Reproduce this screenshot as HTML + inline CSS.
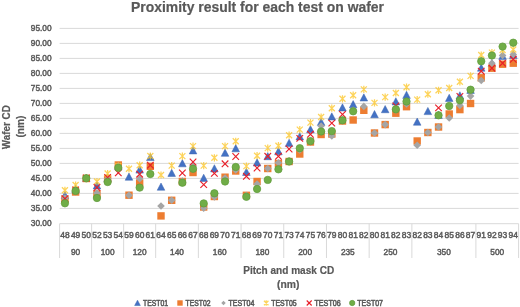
<!DOCTYPE html><html><head><meta charset="utf-8"><title>Proximity result for each test on wafer</title>
<style>html,body{margin:0;padding:0;background:#fff;width:520px;height:307px;overflow:hidden}svg{display:block;filter:blur(0.35px)}text{font-family:'Liberation Sans', Arial, sans-serif;fill:#595959}text.r{stroke:#595959;stroke-width:0.45px}text[font-weight]{stroke:#595959;stroke-width:0.2px}</style></head><body>
<svg width="520" height="307" viewBox="0 0 520 307">
<rect width="520" height="307" fill="#fff"/>
<text x="131.0" y="11.75" font-size="13.9" font-weight="bold" textLength="253" lengthAdjust="spacingAndGlyphs">Proximity result for each test on wafer</text>
<path d="M59.6 208.40H518.6M59.6 193.40H518.6M59.6 178.40H518.6M59.6 163.40H518.6M59.6 148.40H518.6M59.6 133.40H518.6M59.6 118.40H518.6M59.6 103.40H518.6M59.6 88.40H518.6M59.6 73.40H518.6M59.6 58.40H518.6M59.6 43.40H518.6M59.6 28.40H518.6" stroke="#D9D9D9" stroke-width="1" fill="none"/>
<text x="51.6" y="226.35" class="r" font-size="8.3" text-anchor="end">30.00</text>
<text x="51.6" y="211.35" class="r" font-size="8.3" text-anchor="end">35.00</text>
<text x="51.6" y="196.35" class="r" font-size="8.3" text-anchor="end">40.00</text>
<text x="51.6" y="181.35" class="r" font-size="8.3" text-anchor="end">45.00</text>
<text x="51.6" y="166.35" class="r" font-size="8.3" text-anchor="end">50.00</text>
<text x="51.6" y="151.35" class="r" font-size="8.3" text-anchor="end">55.00</text>
<text x="51.6" y="136.35" class="r" font-size="8.3" text-anchor="end">60.00</text>
<text x="51.6" y="121.35" class="r" font-size="8.3" text-anchor="end">65.00</text>
<text x="51.6" y="106.35" class="r" font-size="8.3" text-anchor="end">70.00</text>
<text x="51.6" y="91.35" class="r" font-size="8.3" text-anchor="end">75.00</text>
<text x="51.6" y="76.35" class="r" font-size="8.3" text-anchor="end">80.00</text>
<text x="51.6" y="61.35" class="r" font-size="8.3" text-anchor="end">85.00</text>
<text x="51.6" y="46.35" class="r" font-size="8.3" text-anchor="end">90.00</text>
<text x="51.6" y="31.35" class="r" font-size="8.3" text-anchor="end">95.00</text>
<path d="M59.6 223.70H518.6M59.60 223.70V258M91.62 223.70V258M123.65 223.70V258M155.67 223.70V258M198.37 223.70V258M241.07 223.70V258M283.76 223.70V258M326.46 223.70V258M369.16 223.70V258M411.86 223.70V258M475.90 223.70V258M518.60 223.70V258" stroke="#D9D9D9" stroke-width="1" fill="none"/>
<text x="64.94" y="238.3" class="r" font-size="8.3" text-anchor="middle" textLength="9.4" lengthAdjust="spacingAndGlyphs">48</text>
<text x="75.61" y="238.3" class="r" font-size="8.3" text-anchor="middle" textLength="9.4" lengthAdjust="spacingAndGlyphs">49</text>
<text x="86.29" y="238.3" class="r" font-size="8.3" text-anchor="middle" textLength="9.4" lengthAdjust="spacingAndGlyphs">50</text>
<text x="75.61" y="255.2" class="r" font-size="8.3" text-anchor="middle">90</text>
<text x="96.96" y="238.3" class="r" font-size="8.3" text-anchor="middle" textLength="9.4" lengthAdjust="spacingAndGlyphs">52</text>
<text x="107.63" y="238.3" class="r" font-size="8.3" text-anchor="middle" textLength="9.4" lengthAdjust="spacingAndGlyphs">53</text>
<text x="118.31" y="238.3" class="r" font-size="8.3" text-anchor="middle" textLength="9.4" lengthAdjust="spacingAndGlyphs">54</text>
<text x="107.63" y="255.2" class="r" font-size="8.3" text-anchor="middle">100</text>
<text x="128.98" y="238.3" class="r" font-size="8.3" text-anchor="middle" textLength="9.4" lengthAdjust="spacingAndGlyphs">59</text>
<text x="139.66" y="238.3" class="r" font-size="8.3" text-anchor="middle" textLength="9.4" lengthAdjust="spacingAndGlyphs">60</text>
<text x="150.33" y="238.3" class="r" font-size="8.3" text-anchor="middle" textLength="9.4" lengthAdjust="spacingAndGlyphs">61</text>
<text x="139.66" y="255.2" class="r" font-size="8.3" text-anchor="middle">120</text>
<text x="161.01" y="238.3" class="r" font-size="8.3" text-anchor="middle" textLength="9.4" lengthAdjust="spacingAndGlyphs">64</text>
<text x="171.68" y="238.3" class="r" font-size="8.3" text-anchor="middle" textLength="9.4" lengthAdjust="spacingAndGlyphs">65</text>
<text x="182.36" y="238.3" class="r" font-size="8.3" text-anchor="middle" textLength="9.4" lengthAdjust="spacingAndGlyphs">66</text>
<text x="193.03" y="238.3" class="r" font-size="8.3" text-anchor="middle" textLength="9.4" lengthAdjust="spacingAndGlyphs">67</text>
<text x="177.02" y="255.2" class="r" font-size="8.3" text-anchor="middle">140</text>
<text x="203.70" y="238.3" class="r" font-size="8.3" text-anchor="middle" textLength="9.4" lengthAdjust="spacingAndGlyphs">68</text>
<text x="214.38" y="238.3" class="r" font-size="8.3" text-anchor="middle" textLength="9.4" lengthAdjust="spacingAndGlyphs">69</text>
<text x="225.05" y="238.3" class="r" font-size="8.3" text-anchor="middle" textLength="9.4" lengthAdjust="spacingAndGlyphs">70</text>
<text x="235.73" y="238.3" class="r" font-size="8.3" text-anchor="middle" textLength="9.4" lengthAdjust="spacingAndGlyphs">71</text>
<text x="219.72" y="255.2" class="r" font-size="8.3" text-anchor="middle">160</text>
<text x="246.40" y="238.3" class="r" font-size="8.3" text-anchor="middle" textLength="9.4" lengthAdjust="spacingAndGlyphs">68</text>
<text x="257.08" y="238.3" class="r" font-size="8.3" text-anchor="middle" textLength="9.4" lengthAdjust="spacingAndGlyphs">69</text>
<text x="267.75" y="238.3" class="r" font-size="8.3" text-anchor="middle" textLength="9.4" lengthAdjust="spacingAndGlyphs">70</text>
<text x="278.43" y="238.3" class="r" font-size="8.3" text-anchor="middle" textLength="9.4" lengthAdjust="spacingAndGlyphs">71</text>
<text x="262.41" y="255.2" class="r" font-size="8.3" text-anchor="middle">180</text>
<text x="289.10" y="238.3" class="r" font-size="8.3" text-anchor="middle" textLength="9.4" lengthAdjust="spacingAndGlyphs">73</text>
<text x="299.77" y="238.3" class="r" font-size="8.3" text-anchor="middle" textLength="9.4" lengthAdjust="spacingAndGlyphs">74</text>
<text x="310.45" y="238.3" class="r" font-size="8.3" text-anchor="middle" textLength="9.4" lengthAdjust="spacingAndGlyphs">75</text>
<text x="321.12" y="238.3" class="r" font-size="8.3" text-anchor="middle" textLength="9.4" lengthAdjust="spacingAndGlyphs">76</text>
<text x="305.11" y="255.2" class="r" font-size="8.3" text-anchor="middle">200</text>
<text x="331.80" y="238.3" class="r" font-size="8.3" text-anchor="middle" textLength="9.4" lengthAdjust="spacingAndGlyphs">79</text>
<text x="342.47" y="238.3" class="r" font-size="8.3" text-anchor="middle" textLength="9.4" lengthAdjust="spacingAndGlyphs">80</text>
<text x="353.15" y="238.3" class="r" font-size="8.3" text-anchor="middle" textLength="9.4" lengthAdjust="spacingAndGlyphs">81</text>
<text x="363.82" y="238.3" class="r" font-size="8.3" text-anchor="middle" textLength="9.4" lengthAdjust="spacingAndGlyphs">82</text>
<text x="347.81" y="255.2" class="r" font-size="8.3" text-anchor="middle">235</text>
<text x="374.50" y="238.3" class="r" font-size="8.3" text-anchor="middle" textLength="9.4" lengthAdjust="spacingAndGlyphs">80</text>
<text x="385.17" y="238.3" class="r" font-size="8.3" text-anchor="middle" textLength="9.4" lengthAdjust="spacingAndGlyphs">81</text>
<text x="395.84" y="238.3" class="r" font-size="8.3" text-anchor="middle" textLength="9.4" lengthAdjust="spacingAndGlyphs">82</text>
<text x="406.52" y="238.3" class="r" font-size="8.3" text-anchor="middle" textLength="9.4" lengthAdjust="spacingAndGlyphs">83</text>
<text x="390.51" y="255.2" class="r" font-size="8.3" text-anchor="middle">250</text>
<text x="417.19" y="238.3" class="r" font-size="8.3" text-anchor="middle" textLength="9.4" lengthAdjust="spacingAndGlyphs">82</text>
<text x="427.87" y="238.3" class="r" font-size="8.3" text-anchor="middle" textLength="9.4" lengthAdjust="spacingAndGlyphs">83</text>
<text x="438.54" y="238.3" class="r" font-size="8.3" text-anchor="middle" textLength="9.4" lengthAdjust="spacingAndGlyphs">84</text>
<text x="449.22" y="238.3" class="r" font-size="8.3" text-anchor="middle" textLength="9.4" lengthAdjust="spacingAndGlyphs">85</text>
<text x="459.89" y="238.3" class="r" font-size="8.3" text-anchor="middle" textLength="9.4" lengthAdjust="spacingAndGlyphs">86</text>
<text x="470.57" y="238.3" class="r" font-size="8.3" text-anchor="middle" textLength="9.4" lengthAdjust="spacingAndGlyphs">87</text>
<text x="443.88" y="255.2" class="r" font-size="8.3" text-anchor="middle">350</text>
<text x="481.24" y="238.3" class="r" font-size="8.3" text-anchor="middle" textLength="9.4" lengthAdjust="spacingAndGlyphs">91</text>
<text x="491.91" y="238.3" class="r" font-size="8.3" text-anchor="middle" textLength="9.4" lengthAdjust="spacingAndGlyphs">92</text>
<text x="502.59" y="238.3" class="r" font-size="8.3" text-anchor="middle" textLength="9.4" lengthAdjust="spacingAndGlyphs">93</text>
<text x="513.26" y="238.3" class="r" font-size="8.3" text-anchor="middle" textLength="9.4" lengthAdjust="spacingAndGlyphs">94</text>
<text x="497.25" y="255.2" class="r" font-size="8.3" text-anchor="middle">500</text>
<text x="243.2" y="274.2" font-size="10.5" font-weight="bold" textLength="91" lengthAdjust="spacingAndGlyphs">Pitch and mask CD</text>
<text x="277" y="288.3" font-size="10.5" font-weight="bold" textLength="22.4" lengthAdjust="spacingAndGlyphs">(nm)</text>
<text transform="translate(9.9 149.2) rotate(-90)" x="0" y="0" font-size="10.3" font-weight="bold" textLength="44" lengthAdjust="spacingAndGlyphs">Wafer CD</text>
<text transform="translate(23.7 137.6) rotate(-90)" x="0" y="0" font-size="10.3" font-weight="bold" textLength="22" lengthAdjust="spacingAndGlyphs">(nm)</text>
<path d="M64.94 191.60L68.74 198.82L61.14 198.82Z" fill="#4472C4" stroke="#3A64B0" stroke-width="0.5"/>
<path d="M75.61 185.20L79.41 192.42L71.81 192.42Z" fill="#4472C4" stroke="#3A64B0" stroke-width="0.5"/>
<path d="M86.29 174.20L90.09 181.42L82.49 181.42Z" fill="#4472C4" stroke="#3A64B0" stroke-width="0.5"/>
<path d="M96.96 181.80L100.76 189.02L93.16 189.02Z" fill="#4472C4" stroke="#3A64B0" stroke-width="0.5"/>
<path d="M107.63 174.20L111.43 181.42L103.83 181.42Z" fill="#4472C4" stroke="#3A64B0" stroke-width="0.5"/>
<path d="M118.31 162.20L122.11 169.42L114.51 169.42Z" fill="#4472C4" stroke="#3A64B0" stroke-width="0.5"/>
<path d="M128.98 173.00L132.78 180.22L125.18 180.22Z" fill="#4472C4" stroke="#3A64B0" stroke-width="0.5"/>
<path d="M139.66 165.90L143.46 173.12L135.86 173.12Z" fill="#4472C4" stroke="#3A64B0" stroke-width="0.5"/>
<path d="M150.33 153.40L154.13 160.62L146.53 160.62Z" fill="#4472C4" stroke="#3A64B0" stroke-width="0.5"/>
<path d="M161.01 183.00L164.81 190.22L157.21 190.22Z" fill="#4472C4" stroke="#3A64B0" stroke-width="0.5"/>
<path d="M171.68 169.20L175.48 176.42L167.88 176.42Z" fill="#4472C4" stroke="#3A64B0" stroke-width="0.5"/>
<path d="M182.36 159.60L186.16 166.82L178.56 166.82Z" fill="#4472C4" stroke="#3A64B0" stroke-width="0.5"/>
<path d="M193.03 146.70L196.83 153.92L189.23 153.92Z" fill="#4472C4" stroke="#3A64B0" stroke-width="0.5"/>
<path d="M203.70 174.20L207.50 181.42L199.90 181.42Z" fill="#4472C4" stroke="#3A64B0" stroke-width="0.5"/>
<path d="M214.38 164.70L218.18 171.92L210.58 171.92Z" fill="#4472C4" stroke="#3A64B0" stroke-width="0.5"/>
<path d="M225.05 149.10L228.85 156.32L221.25 156.32Z" fill="#4472C4" stroke="#3A64B0" stroke-width="0.5"/>
<path d="M235.73 144.60L239.53 151.82L231.93 151.82Z" fill="#4472C4" stroke="#3A64B0" stroke-width="0.5"/>
<path d="M246.40 168.20L250.20 175.42L242.60 175.42Z" fill="#4472C4" stroke="#3A64B0" stroke-width="0.5"/>
<path d="M257.08 158.80L260.88 166.02L253.28 166.02Z" fill="#4472C4" stroke="#3A64B0" stroke-width="0.5"/>
<path d="M267.75 152.50L271.55 159.72L263.95 159.72Z" fill="#4472C4" stroke="#3A64B0" stroke-width="0.5"/>
<path d="M278.43 147.60L282.23 154.82L274.63 154.82Z" fill="#4472C4" stroke="#3A64B0" stroke-width="0.5"/>
<path d="M289.10 139.20L292.90 146.42L285.30 146.42Z" fill="#4472C4" stroke="#3A64B0" stroke-width="0.5"/>
<path d="M299.77 132.70L303.57 139.92L295.97 139.92Z" fill="#4472C4" stroke="#3A64B0" stroke-width="0.5"/>
<path d="M310.45 125.60L314.25 132.82L306.65 132.82Z" fill="#4472C4" stroke="#3A64B0" stroke-width="0.5"/>
<path d="M321.12 118.20L324.92 125.42L317.32 125.42Z" fill="#4472C4" stroke="#3A64B0" stroke-width="0.5"/>
<path d="M331.80 112.80L335.60 120.02L328.00 120.02Z" fill="#4472C4" stroke="#3A64B0" stroke-width="0.5"/>
<path d="M342.47 103.80L346.27 111.02L338.67 111.02Z" fill="#4472C4" stroke="#3A64B0" stroke-width="0.5"/>
<path d="M353.15 100.60L356.95 107.82L349.35 107.82Z" fill="#4472C4" stroke="#3A64B0" stroke-width="0.5"/>
<path d="M363.82 93.80L367.62 101.02L360.02 101.02Z" fill="#4472C4" stroke="#3A64B0" stroke-width="0.5"/>
<path d="M374.50 110.50L378.30 117.72L370.70 117.72Z" fill="#4472C4" stroke="#3A64B0" stroke-width="0.5"/>
<path d="M385.17 105.50L388.97 112.72L381.37 112.72Z" fill="#4472C4" stroke="#3A64B0" stroke-width="0.5"/>
<path d="M395.84 97.70L399.64 104.92L392.04 104.92Z" fill="#4472C4" stroke="#3A64B0" stroke-width="0.5"/>
<path d="M406.52 91.20L410.32 98.42L402.72 98.42Z" fill="#4472C4" stroke="#3A64B0" stroke-width="0.5"/>
<path d="M417.19 118.00L420.99 125.22L413.39 125.22Z" fill="#4472C4" stroke="#3A64B0" stroke-width="0.5"/>
<path d="M427.87 107.40L431.67 114.62L424.07 114.62Z" fill="#4472C4" stroke="#3A64B0" stroke-width="0.5"/>
<path d="M438.54 111.20L442.34 118.42L434.74 118.42Z" fill="#4472C4" stroke="#3A64B0" stroke-width="0.5"/>
<path d="M449.22 94.20L453.02 101.42L445.42 101.42Z" fill="#4472C4" stroke="#3A64B0" stroke-width="0.5"/>
<path d="M459.89 91.70L463.69 98.92L456.09 98.92Z" fill="#4472C4" stroke="#3A64B0" stroke-width="0.5"/>
<path d="M470.57 86.20L474.37 93.42L466.77 93.42Z" fill="#4472C4" stroke="#3A64B0" stroke-width="0.5"/>
<path d="M481.24 64.00L485.04 71.22L477.44 71.22Z" fill="#4472C4" stroke="#3A64B0" stroke-width="0.5"/>
<path d="M491.91 59.50L495.71 66.72L488.11 66.72Z" fill="#4472C4" stroke="#3A64B0" stroke-width="0.5"/>
<path d="M502.59 52.20L506.39 59.42L498.79 59.42Z" fill="#4472C4" stroke="#3A64B0" stroke-width="0.5"/>
<path d="M513.26 51.20L517.06 58.42L509.46 58.42Z" fill="#4472C4" stroke="#3A64B0" stroke-width="0.5"/>
<rect x="61.24" y="195.60" width="7.40" height="7.40" fill="#ED7D31"/>
<rect x="71.91" y="188.30" width="7.40" height="7.40" fill="#ED7D31"/>
<rect x="82.59" y="174.80" width="7.40" height="7.40" fill="#ED7D31"/>
<rect x="93.26" y="190.30" width="7.40" height="7.40" fill="#ED7D31"/>
<rect x="103.93" y="175.30" width="7.40" height="7.40" fill="#ED7D31"/>
<rect x="114.61" y="161.30" width="7.40" height="7.40" fill="#ED7D31"/>
<rect x="125.28" y="191.50" width="7.40" height="7.40" fill="#ED7D31"/>
<rect x="135.96" y="179.30" width="7.40" height="7.40" fill="#ED7D31"/>
<rect x="146.63" y="162.60" width="7.40" height="7.40" fill="#ED7D31"/>
<rect x="157.31" y="212.20" width="7.40" height="7.40" fill="#ED7D31"/>
<rect x="167.98" y="196.60" width="7.40" height="7.40" fill="#ED7D31"/>
<rect x="178.66" y="177.80" width="7.40" height="7.40" fill="#ED7D31"/>
<rect x="189.33" y="168.80" width="7.40" height="7.40" fill="#ED7D31"/>
<rect x="200.00" y="203.30" width="7.40" height="7.40" fill="#ED7D31"/>
<rect x="210.68" y="192.80" width="7.40" height="7.40" fill="#ED7D31"/>
<rect x="221.35" y="173.50" width="7.40" height="7.40" fill="#ED7D31"/>
<rect x="232.03" y="167.30" width="7.40" height="7.40" fill="#ED7D31"/>
<rect x="242.70" y="191.60" width="7.40" height="7.40" fill="#ED7D31"/>
<rect x="253.38" y="177.80" width="7.40" height="7.40" fill="#ED7D31"/>
<rect x="264.05" y="164.80" width="7.40" height="7.40" fill="#ED7D31"/>
<rect x="274.73" y="159.80" width="7.40" height="7.40" fill="#ED7D31"/>
<rect x="285.40" y="157.80" width="7.40" height="7.40" fill="#ED7D31"/>
<rect x="296.07" y="150.30" width="7.40" height="7.40" fill="#ED7D31"/>
<rect x="306.75" y="138.30" width="7.40" height="7.40" fill="#ED7D31"/>
<rect x="317.42" y="130.80" width="7.40" height="7.40" fill="#ED7D31"/>
<rect x="328.10" y="130.30" width="7.40" height="7.40" fill="#ED7D31"/>
<rect x="338.77" y="117.30" width="7.40" height="7.40" fill="#ED7D31"/>
<rect x="349.45" y="116.30" width="7.40" height="7.40" fill="#ED7D31"/>
<rect x="360.12" y="106.60" width="7.40" height="7.40" fill="#ED7D31"/>
<rect x="370.80" y="129.30" width="7.40" height="7.40" fill="#ED7D31"/>
<rect x="381.47" y="120.90" width="7.40" height="7.40" fill="#ED7D31"/>
<rect x="392.14" y="109.50" width="7.40" height="7.40" fill="#ED7D31"/>
<rect x="402.82" y="103.00" width="7.40" height="7.40" fill="#ED7D31"/>
<rect x="413.49" y="137.30" width="7.40" height="7.40" fill="#ED7D31"/>
<rect x="424.17" y="128.80" width="7.40" height="7.40" fill="#ED7D31"/>
<rect x="434.84" y="123.30" width="7.40" height="7.40" fill="#ED7D31"/>
<rect x="445.52" y="110.30" width="7.40" height="7.40" fill="#ED7D31"/>
<rect x="456.19" y="105.90" width="7.40" height="7.40" fill="#ED7D31"/>
<rect x="466.87" y="99.80" width="7.40" height="7.40" fill="#ED7D31"/>
<rect x="477.54" y="74.10" width="7.40" height="7.40" fill="#ED7D31"/>
<rect x="488.21" y="64.50" width="7.40" height="7.40" fill="#ED7D31"/>
<rect x="498.89" y="60.50" width="7.40" height="7.40" fill="#ED7D31"/>
<rect x="509.56" y="59.50" width="7.40" height="7.40" fill="#ED7D31"/>
<path d="M64.94 194.20L68.74 198.00L64.94 201.80L61.14 198.00Z" fill="#A5A5A5"/>
<path d="M75.61 187.20L79.41 191.00L75.61 194.80L71.81 191.00Z" fill="#A5A5A5"/>
<path d="M86.29 174.20L90.09 178.00L86.29 181.80L82.49 178.00Z" fill="#A5A5A5"/>
<path d="M96.96 189.20L100.76 193.00L96.96 196.80L93.16 193.00Z" fill="#A5A5A5"/>
<path d="M107.63 175.20L111.43 179.00L107.63 182.80L103.83 179.00Z" fill="#A5A5A5"/>
<path d="M118.31 162.20L122.11 166.00L118.31 169.80L114.51 166.00Z" fill="#A5A5A5"/>
<path d="M128.98 191.40L132.78 195.20L128.98 199.00L125.18 195.20Z" fill="#A5A5A5"/>
<path d="M139.66 174.90L143.46 178.70L139.66 182.50L135.86 178.70Z" fill="#A5A5A5"/>
<path d="M150.33 170.20L154.13 174.00L150.33 177.80L146.53 174.00Z" fill="#A5A5A5"/>
<path d="M161.01 202.20L164.81 206.00L161.01 209.80L157.21 206.00Z" fill="#A5A5A5"/>
<path d="M171.68 196.50L175.48 200.30L171.68 204.10L167.88 200.30Z" fill="#A5A5A5"/>
<path d="M182.36 177.20L186.16 181.00L182.36 184.80L178.56 181.00Z" fill="#A5A5A5"/>
<path d="M193.03 162.20L196.83 166.00L193.03 169.80L189.23 166.00Z" fill="#A5A5A5"/>
<path d="M203.70 204.50L207.50 208.30L203.70 212.10L199.90 208.30Z" fill="#A5A5A5"/>
<path d="M214.38 193.20L218.18 197.00L214.38 200.80L210.58 197.00Z" fill="#A5A5A5"/>
<path d="M225.05 174.20L228.85 178.00L225.05 181.80L221.25 178.00Z" fill="#A5A5A5"/>
<path d="M235.73 166.20L239.53 170.00L235.73 173.80L231.93 170.00Z" fill="#A5A5A5"/>
<path d="M246.40 191.70L250.20 195.50L246.40 199.30L242.60 195.50Z" fill="#A5A5A5"/>
<path d="M257.08 180.20L260.88 184.00L257.08 187.80L253.28 184.00Z" fill="#A5A5A5"/>
<path d="M267.75 164.70L271.55 168.50L267.75 172.30L263.95 168.50Z" fill="#A5A5A5"/>
<path d="M278.43 159.00L282.23 162.80L278.43 166.60L274.63 162.80Z" fill="#A5A5A5"/>
<path d="M289.10 157.20L292.90 161.00L289.10 164.80L285.30 161.00Z" fill="#A5A5A5"/>
<path d="M299.77 146.20L303.57 150.00L299.77 153.80L295.97 150.00Z" fill="#A5A5A5"/>
<path d="M310.45 137.20L314.25 141.00L310.45 144.80L306.65 141.00Z" fill="#A5A5A5"/>
<path d="M321.12 122.20L324.92 126.00L321.12 129.80L317.32 126.00Z" fill="#A5A5A5"/>
<path d="M331.80 132.20L335.60 136.00L331.80 139.80L328.00 136.00Z" fill="#A5A5A5"/>
<path d="M342.47 116.20L346.27 120.00L342.47 123.80L338.67 120.00Z" fill="#A5A5A5"/>
<path d="M353.15 106.50L356.95 110.30L353.15 114.10L349.35 110.30Z" fill="#A5A5A5"/>
<path d="M363.82 102.60L367.62 106.40L363.82 110.20L360.02 106.40Z" fill="#A5A5A5"/>
<path d="M374.50 129.20L378.30 133.00L374.50 136.80L370.70 133.00Z" fill="#A5A5A5"/>
<path d="M385.17 120.80L388.97 124.60L385.17 128.40L381.37 124.60Z" fill="#A5A5A5"/>
<path d="M395.84 106.20L399.64 110.00L395.84 113.80L392.04 110.00Z" fill="#A5A5A5"/>
<path d="M406.52 100.20L410.32 104.00L406.52 107.80L402.72 104.00Z" fill="#A5A5A5"/>
<path d="M417.19 141.40L420.99 145.20L417.19 149.00L413.39 145.20Z" fill="#A5A5A5"/>
<path d="M427.87 128.70L431.67 132.50L427.87 136.30L424.07 132.50Z" fill="#A5A5A5"/>
<path d="M438.54 123.20L442.34 127.00L438.54 130.80L434.74 127.00Z" fill="#A5A5A5"/>
<path d="M449.22 114.20L453.02 118.00L449.22 121.80L445.42 118.00Z" fill="#A5A5A5"/>
<path d="M459.89 101.70L463.69 105.50L459.89 109.30L456.09 105.50Z" fill="#A5A5A5"/>
<path d="M470.57 92.30L474.37 96.10L470.57 99.90L466.77 96.10Z" fill="#A5A5A5"/>
<path d="M481.24 76.70L485.04 80.50L481.24 84.30L477.44 80.50Z" fill="#A5A5A5"/>
<path d="M491.91 59.50L495.71 63.30L491.91 67.10L488.11 63.30Z" fill="#A5A5A5"/>
<path d="M502.59 51.60L506.39 55.40L502.59 59.20L498.79 55.40Z" fill="#A5A5A5"/>
<path d="M513.26 50.60L517.06 54.40L513.26 58.20L509.46 54.40Z" fill="#A5A5A5"/>
<path d="M61.94 187.30L67.94 193.30M67.94 187.30L61.94 193.30M64.94 186.70L64.94 193.90" stroke="#FCC830" stroke-width="1.25" fill="none" opacity="0.8"/>
<path d="M72.61 182.00L78.61 188.00M78.61 182.00L72.61 188.00M75.61 181.40L75.61 188.60" stroke="#FCC830" stroke-width="1.25" fill="none" opacity="0.8"/>
<path d="M83.29 175.00L89.29 181.00M89.29 175.00L83.29 181.00M86.29 174.40L86.29 181.60" stroke="#FCC830" stroke-width="1.25" fill="none" opacity="0.8"/>
<path d="M93.96 178.50L99.96 184.50M99.96 178.50L93.96 184.50M96.96 177.90L96.96 185.10" stroke="#FCC830" stroke-width="1.25" fill="none" opacity="0.8"/>
<path d="M104.63 170.50L110.63 176.50M110.63 170.50L104.63 176.50M107.63 169.90L107.63 177.10" stroke="#FCC830" stroke-width="1.25" fill="none" opacity="0.8"/>
<path d="M115.31 163.00L121.31 169.00M121.31 163.00L115.31 169.00M118.31 162.40L118.31 169.60" stroke="#FCC830" stroke-width="1.25" fill="none" opacity="0.8"/>
<path d="M125.98 165.80L131.98 171.80M131.98 165.80L125.98 171.80M128.98 165.20L128.98 172.40" stroke="#FCC830" stroke-width="1.25" fill="none" opacity="0.8"/>
<path d="M136.66 162.20L142.66 168.20M142.66 162.20L136.66 168.20M139.66 161.60L139.66 168.80" stroke="#FCC830" stroke-width="1.25" fill="none" opacity="0.8"/>
<path d="M147.33 153.00L153.33 159.00M153.33 153.00L147.33 159.00M150.33 152.40L150.33 159.60" stroke="#FCC830" stroke-width="1.25" fill="none" opacity="0.8"/>
<path d="M158.01 172.00L164.01 178.00M164.01 172.00L158.01 178.00M161.01 171.40L161.01 178.60" stroke="#FCC830" stroke-width="1.25" fill="none" opacity="0.8"/>
<path d="M168.68 162.60L174.68 168.60M174.68 162.60L168.68 168.60M171.68 162.00L171.68 169.20" stroke="#FCC830" stroke-width="1.25" fill="none" opacity="0.8"/>
<path d="M179.36 153.10L185.36 159.10M185.36 153.10L179.36 159.10M182.36 152.50L182.36 159.70" stroke="#FCC830" stroke-width="1.25" fill="none" opacity="0.8"/>
<path d="M190.03 143.10L196.03 149.10M196.03 143.10L190.03 149.10M193.03 142.50L193.03 149.70" stroke="#FCC830" stroke-width="1.25" fill="none" opacity="0.8"/>
<path d="M200.70 162.60L206.70 168.60M206.70 162.60L200.70 168.60M203.70 162.00L203.70 169.20" stroke="#FCC830" stroke-width="1.25" fill="none" opacity="0.8"/>
<path d="M211.38 154.80L217.38 160.80M217.38 154.80L211.38 160.80M214.38 154.20L214.38 161.40" stroke="#FCC830" stroke-width="1.25" fill="none" opacity="0.8"/>
<path d="M222.05 143.10L228.05 149.10M228.05 143.10L222.05 149.10M225.05 142.50L225.05 149.70" stroke="#FCC830" stroke-width="1.25" fill="none" opacity="0.8"/>
<path d="M232.73 138.30L238.73 144.30M238.73 138.30L232.73 144.30M235.73 137.70L235.73 144.90" stroke="#FCC830" stroke-width="1.25" fill="none" opacity="0.8"/>
<path d="M243.40 163.10L249.40 169.10M249.40 163.10L243.40 169.10M246.40 162.50L246.40 169.70" stroke="#FCC830" stroke-width="1.25" fill="none" opacity="0.8"/>
<path d="M254.08 152.70L260.08 158.70M260.08 152.70L254.08 158.70M257.08 152.10L257.08 159.30" stroke="#FCC830" stroke-width="1.25" fill="none" opacity="0.8"/>
<path d="M264.75 145.10L270.75 151.10M270.75 145.10L264.75 151.10M267.75 144.50L267.75 151.70" stroke="#FCC830" stroke-width="1.25" fill="none" opacity="0.8"/>
<path d="M275.43 142.70L281.43 148.70M281.43 142.70L275.43 148.70M278.43 142.10L278.43 149.30" stroke="#FCC830" stroke-width="1.25" fill="none" opacity="0.8"/>
<path d="M286.10 132.20L292.10 138.20M292.10 132.20L286.10 138.20M289.10 131.60L289.10 138.80" stroke="#FCC830" stroke-width="1.25" fill="none" opacity="0.8"/>
<path d="M296.77 126.60L302.77 132.60M302.77 126.60L296.77 132.60M299.77 126.00L299.77 133.20" stroke="#FCC830" stroke-width="1.25" fill="none" opacity="0.8"/>
<path d="M307.45 119.60L313.45 125.60M313.45 119.60L307.45 125.60M310.45 119.00L310.45 126.20" stroke="#FCC830" stroke-width="1.25" fill="none" opacity="0.8"/>
<path d="M318.12 114.00L324.12 120.00M324.12 114.00L318.12 120.00M321.12 113.40L321.12 120.60" stroke="#FCC830" stroke-width="1.25" fill="none" opacity="0.8"/>
<path d="M328.80 105.20L334.80 111.20M334.80 105.20L328.80 111.20M331.80 104.60L331.80 111.80" stroke="#FCC830" stroke-width="1.25" fill="none" opacity="0.8"/>
<path d="M339.47 95.80L345.47 101.80M345.47 95.80L339.47 101.80M342.47 95.20L342.47 102.40" stroke="#FCC830" stroke-width="1.25" fill="none" opacity="0.8"/>
<path d="M350.15 92.20L356.15 98.20M356.15 92.20L350.15 98.20M353.15 91.60L353.15 98.80" stroke="#FCC830" stroke-width="1.25" fill="none" opacity="0.8"/>
<path d="M360.82 86.40L366.82 92.40M366.82 86.40L360.82 92.40M363.82 85.80L363.82 93.00" stroke="#FCC830" stroke-width="1.25" fill="none" opacity="0.8"/>
<path d="M371.50 99.90L377.50 105.90M377.50 99.90L371.50 105.90M374.50 99.30L374.50 106.50" stroke="#FCC830" stroke-width="1.25" fill="none" opacity="0.8"/>
<path d="M382.17 94.10L388.17 100.10M388.17 94.10L382.17 100.10M385.17 93.50L385.17 100.70" stroke="#FCC830" stroke-width="1.25" fill="none" opacity="0.8"/>
<path d="M392.84 90.00L398.84 96.00M398.84 90.00L392.84 96.00M395.84 89.40L395.84 96.60" stroke="#FCC830" stroke-width="1.25" fill="none" opacity="0.8"/>
<path d="M403.52 84.20L409.52 90.20M409.52 84.20L403.52 90.20M406.52 83.60L406.52 90.80" stroke="#FCC830" stroke-width="1.25" fill="none" opacity="0.8"/>
<path d="M414.19 96.60L420.19 102.60M420.19 96.60L414.19 102.60M417.19 96.00L417.19 103.20" stroke="#FCC830" stroke-width="1.25" fill="none" opacity="0.8"/>
<path d="M424.87 91.20L430.87 97.20M430.87 91.20L424.87 97.20M427.87 90.60L427.87 97.80" stroke="#FCC830" stroke-width="1.25" fill="none" opacity="0.8"/>
<path d="M435.54 87.30L441.54 93.30M441.54 87.30L435.54 93.30M438.54 86.70L438.54 93.90" stroke="#FCC830" stroke-width="1.25" fill="none" opacity="0.8"/>
<path d="M446.22 85.00L452.22 91.00M452.22 85.00L446.22 91.00M449.22 84.40L449.22 91.60" stroke="#FCC830" stroke-width="1.25" fill="none" opacity="0.8"/>
<path d="M456.89 78.80L462.89 84.80M462.89 78.80L456.89 84.80M459.89 78.20L459.89 85.40" stroke="#FCC830" stroke-width="1.25" fill="none" opacity="0.8"/>
<path d="M467.57 72.90L473.57 78.90M473.57 72.90L467.57 78.90M470.57 72.30L470.57 79.50" stroke="#FCC830" stroke-width="1.25" fill="none" opacity="0.8"/>
<path d="M478.24 52.00L484.24 58.00M484.24 52.00L478.24 58.00M481.24 51.40L481.24 58.60" stroke="#FCC830" stroke-width="1.25" fill="none" opacity="0.8"/>
<path d="M488.91 49.60L494.91 55.60M494.91 49.60L488.91 55.60M491.91 49.00L491.91 56.20" stroke="#FCC830" stroke-width="1.25" fill="none" opacity="0.8"/>
<path d="M499.59 47.00L505.59 53.00M505.59 47.00L499.59 53.00M502.59 46.40L502.59 53.60" stroke="#FCC830" stroke-width="1.25" fill="none" opacity="0.8"/>
<path d="M510.26 46.50L516.26 52.50M516.26 46.50L510.26 52.50M513.26 45.90L513.26 53.10" stroke="#FCC830" stroke-width="1.25" fill="none" opacity="0.8"/>
<path d="M61.64 195.40L68.24 202.00M68.24 195.40L61.64 202.00" stroke="#E8202A" stroke-width="1.15" fill="none"/>
<path d="M72.31 186.70L78.91 193.30M78.91 186.70L72.31 193.30" stroke="#E8202A" stroke-width="1.15" fill="none"/>
<path d="M82.99 174.70L89.59 181.30M89.59 174.70L82.99 181.30" stroke="#E8202A" stroke-width="1.15" fill="none"/>
<path d="M93.66 184.20L100.26 190.80M100.26 184.20L93.66 190.80" stroke="#E8202A" stroke-width="1.15" fill="none"/>
<path d="M104.33 174.20L110.93 180.80M110.93 174.20L104.33 180.80" stroke="#E8202A" stroke-width="1.15" fill="none"/>
<path d="M115.01 169.50L121.61 176.10M121.61 169.50L115.01 176.10" stroke="#E8202A" stroke-width="1.15" fill="none"/>
<path d="M136.36 170.90L142.96 177.50M142.96 170.90L136.36 177.50" stroke="#E8202A" stroke-width="1.15" fill="none"/>
<path d="M147.03 161.90L153.63 168.50M153.63 161.90L147.03 168.50" stroke="#E8202A" stroke-width="1.15" fill="none"/>
<path d="M179.06 169.70L185.66 176.30M185.66 169.70L179.06 176.30" stroke="#E8202A" stroke-width="1.15" fill="none"/>
<path d="M189.73 158.70L196.33 165.30M196.33 158.70L189.73 165.30" stroke="#E8202A" stroke-width="1.15" fill="none"/>
<path d="M200.40 181.30L207.00 187.90M207.00 181.30L200.40 187.90" stroke="#E8202A" stroke-width="1.15" fill="none"/>
<path d="M211.08 170.10L217.68 176.70M217.68 170.10L211.08 176.70" stroke="#E8202A" stroke-width="1.15" fill="none"/>
<path d="M221.75 160.50L228.35 167.10M228.35 160.50L221.75 167.10" stroke="#E8202A" stroke-width="1.15" fill="none"/>
<path d="M232.43 153.20L239.03 159.80M239.03 153.20L232.43 159.80" stroke="#E8202A" stroke-width="1.15" fill="none"/>
<path d="M243.10 173.00L249.70 179.60M249.70 173.00L243.10 179.60" stroke="#E8202A" stroke-width="1.15" fill="none"/>
<path d="M253.78 164.70L260.38 171.30M260.38 164.70L253.78 171.30" stroke="#E8202A" stroke-width="1.15" fill="none"/>
<path d="M264.45 153.00L271.05 159.60M271.05 153.00L264.45 159.60" stroke="#E8202A" stroke-width="1.15" fill="none"/>
<path d="M275.13 153.00L281.73 159.60M281.73 153.00L275.13 159.60" stroke="#E8202A" stroke-width="1.15" fill="none"/>
<path d="M285.80 145.70L292.40 152.30M292.40 145.70L285.80 152.30" stroke="#E8202A" stroke-width="1.15" fill="none"/>
<path d="M296.47 135.10L303.07 141.70M303.07 135.10L296.47 141.70" stroke="#E8202A" stroke-width="1.15" fill="none"/>
<path d="M307.15 131.00L313.75 137.60M313.75 131.00L307.15 137.60" stroke="#E8202A" stroke-width="1.15" fill="none"/>
<path d="M328.50 119.80L335.10 126.40M335.10 119.80L328.50 126.40" stroke="#E8202A" stroke-width="1.15" fill="none"/>
<path d="M339.17 111.10L345.77 117.70M345.77 111.10L339.17 117.70" stroke="#E8202A" stroke-width="1.15" fill="none"/>
<path d="M392.54 102.70L399.14 109.30M399.14 102.70L392.54 109.30" stroke="#E8202A" stroke-width="1.15" fill="none"/>
<path d="M435.24 104.60L441.84 111.20M441.84 104.60L435.24 111.20" stroke="#E8202A" stroke-width="1.15" fill="none"/>
<path d="M456.59 93.20L463.19 99.80M463.19 93.20L456.59 99.80" stroke="#E8202A" stroke-width="1.15" fill="none"/>
<path d="M477.94 67.90L484.54 74.50M484.54 67.90L477.94 74.50" stroke="#E8202A" stroke-width="1.15" fill="none"/>
<path d="M488.61 64.90L495.21 71.50M495.21 64.90L488.61 71.50" stroke="#E8202A" stroke-width="1.15" fill="none"/>
<path d="M499.29 59.90L505.89 66.50M505.89 59.90L499.29 66.50" stroke="#E8202A" stroke-width="1.15" fill="none"/>
<path d="M509.96 56.00L516.56 62.60M516.56 56.00L509.96 62.60" stroke="#E8202A" stroke-width="1.15" fill="none"/>
<circle cx="64.94" cy="203.30" r="3.70" fill="#70AD47" stroke="#5E9B3B" stroke-width="0.7"/>
<circle cx="75.61" cy="190.90" r="3.70" fill="#70AD47" stroke="#5E9B3B" stroke-width="0.7"/>
<circle cx="86.29" cy="178.30" r="3.70" fill="#70AD47" stroke="#5E9B3B" stroke-width="0.7"/>
<circle cx="96.96" cy="198.00" r="3.70" fill="#70AD47" stroke="#5E9B3B" stroke-width="0.7"/>
<circle cx="107.63" cy="182.00" r="3.70" fill="#70AD47" stroke="#5E9B3B" stroke-width="0.7"/>
<circle cx="118.31" cy="167.80" r="3.70" fill="#70AD47" stroke="#5E9B3B" stroke-width="0.7"/>
<circle cx="139.66" cy="187.60" r="3.70" fill="#70AD47" stroke="#5E9B3B" stroke-width="0.7"/>
<circle cx="150.33" cy="174.00" r="3.70" fill="#70AD47" stroke="#5E9B3B" stroke-width="0.7"/>
<circle cx="182.36" cy="182.70" r="3.70" fill="#70AD47" stroke="#5E9B3B" stroke-width="0.7"/>
<circle cx="193.03" cy="168.80" r="3.70" fill="#70AD47" stroke="#5E9B3B" stroke-width="0.7"/>
<circle cx="203.70" cy="203.40" r="3.70" fill="#70AD47" stroke="#5E9B3B" stroke-width="0.7"/>
<circle cx="214.38" cy="193.30" r="3.70" fill="#70AD47" stroke="#5E9B3B" stroke-width="0.7"/>
<circle cx="225.05" cy="181.50" r="3.70" fill="#70AD47" stroke="#5E9B3B" stroke-width="0.7"/>
<circle cx="235.73" cy="167.00" r="3.70" fill="#70AD47" stroke="#5E9B3B" stroke-width="0.7"/>
<circle cx="246.40" cy="196.80" r="3.70" fill="#70AD47" stroke="#5E9B3B" stroke-width="0.7"/>
<circle cx="257.08" cy="189.00" r="3.70" fill="#70AD47" stroke="#5E9B3B" stroke-width="0.7"/>
<circle cx="267.75" cy="179.90" r="3.70" fill="#70AD47" stroke="#5E9B3B" stroke-width="0.7"/>
<circle cx="278.43" cy="169.30" r="3.70" fill="#70AD47" stroke="#5E9B3B" stroke-width="0.7"/>
<circle cx="289.10" cy="161.50" r="3.70" fill="#70AD47" stroke="#5E9B3B" stroke-width="0.7"/>
<circle cx="299.77" cy="148.20" r="3.70" fill="#70AD47" stroke="#5E9B3B" stroke-width="0.7"/>
<circle cx="310.45" cy="141.10" r="3.70" fill="#70AD47" stroke="#5E9B3B" stroke-width="0.7"/>
<circle cx="321.12" cy="131.50" r="3.70" fill="#70AD47" stroke="#5E9B3B" stroke-width="0.7"/>
<circle cx="331.80" cy="131.10" r="3.70" fill="#70AD47" stroke="#5E9B3B" stroke-width="0.7"/>
<circle cx="342.47" cy="120.30" r="3.70" fill="#70AD47" stroke="#5E9B3B" stroke-width="0.7"/>
<circle cx="353.15" cy="111.30" r="3.70" fill="#70AD47" stroke="#5E9B3B" stroke-width="0.7"/>
<circle cx="395.84" cy="109.30" r="3.70" fill="#70AD47" stroke="#5E9B3B" stroke-width="0.7"/>
<circle cx="406.52" cy="101.50" r="3.70" fill="#70AD47" stroke="#5E9B3B" stroke-width="0.7"/>
<circle cx="438.54" cy="115.30" r="3.70" fill="#70AD47" stroke="#5E9B3B" stroke-width="0.7"/>
<circle cx="449.22" cy="106.00" r="3.70" fill="#70AD47" stroke="#5E9B3B" stroke-width="0.7"/>
<circle cx="459.89" cy="100.30" r="3.70" fill="#70AD47" stroke="#5E9B3B" stroke-width="0.7"/>
<circle cx="470.57" cy="89.70" r="3.70" fill="#70AD47" stroke="#5E9B3B" stroke-width="0.7"/>
<circle cx="481.24" cy="61.30" r="3.70" fill="#70AD47" stroke="#5E9B3B" stroke-width="0.7"/>
<circle cx="491.91" cy="55.50" r="3.70" fill="#70AD47" stroke="#5E9B3B" stroke-width="0.7"/>
<circle cx="502.59" cy="46.60" r="3.70" fill="#70AD47" stroke="#5E9B3B" stroke-width="0.7"/>
<circle cx="513.26" cy="42.70" r="3.70" fill="#70AD47" stroke="#5E9B3B" stroke-width="0.7"/>
<path d="M137.50 300.15L140.35 305.56L134.65 305.56Z" fill="#4472C4" stroke="#3A64B0" stroke-width="0.5"/>
<text class="r" x="143" y="305.8" font-size="8.3" style="stroke-width:0.55px" textLength="25.1" lengthAdjust="spacingAndGlyphs">TEST01</text>
<rect x="177.30" y="300.30" width="5.40" height="5.40" fill="#ED7D31"/>
<text class="r" x="185.6" y="305.8" font-size="8.3" style="stroke-width:0.55px" textLength="25.0" lengthAdjust="spacingAndGlyphs">TEST02</text>
<path d="M223.50 300.72L225.78 303.00L223.50 305.28L221.22 303.00Z" fill="#A5A5A5"/>
<text class="r" x="228.5" y="305.8" font-size="8.3" style="stroke-width:0.55px" textLength="25.9" lengthAdjust="spacingAndGlyphs">TEST04</text>
<path d="M263.95 300.75L268.45 305.25M268.45 300.75L263.95 305.25M266.20 300.15L266.20 305.85" stroke="#FCC830" stroke-width="1.25" fill="none" opacity="0.8"/>
<text class="r" x="271.2" y="305.8" font-size="8.3" style="stroke-width:0.55px" textLength="25.5" lengthAdjust="spacingAndGlyphs">TEST05</text>
<path d="M306.72 300.52L311.68 305.48M311.68 300.52L306.72 305.48" stroke="#E8202A" stroke-width="1.15" fill="none"/>
<text class="r" x="314.4" y="305.8" font-size="8.3" style="stroke-width:0.55px" textLength="26.4" lengthAdjust="spacingAndGlyphs">TEST06</text>
<circle cx="352.20" cy="303.00" r="2.66" fill="#70AD47" stroke="#5E9B3B" stroke-width="0.7"/>
<text class="r" x="357.3" y="305.8" font-size="8.3" style="stroke-width:0.55px" textLength="25.7" lengthAdjust="spacingAndGlyphs">TEST07</text>
</svg></body></html>
